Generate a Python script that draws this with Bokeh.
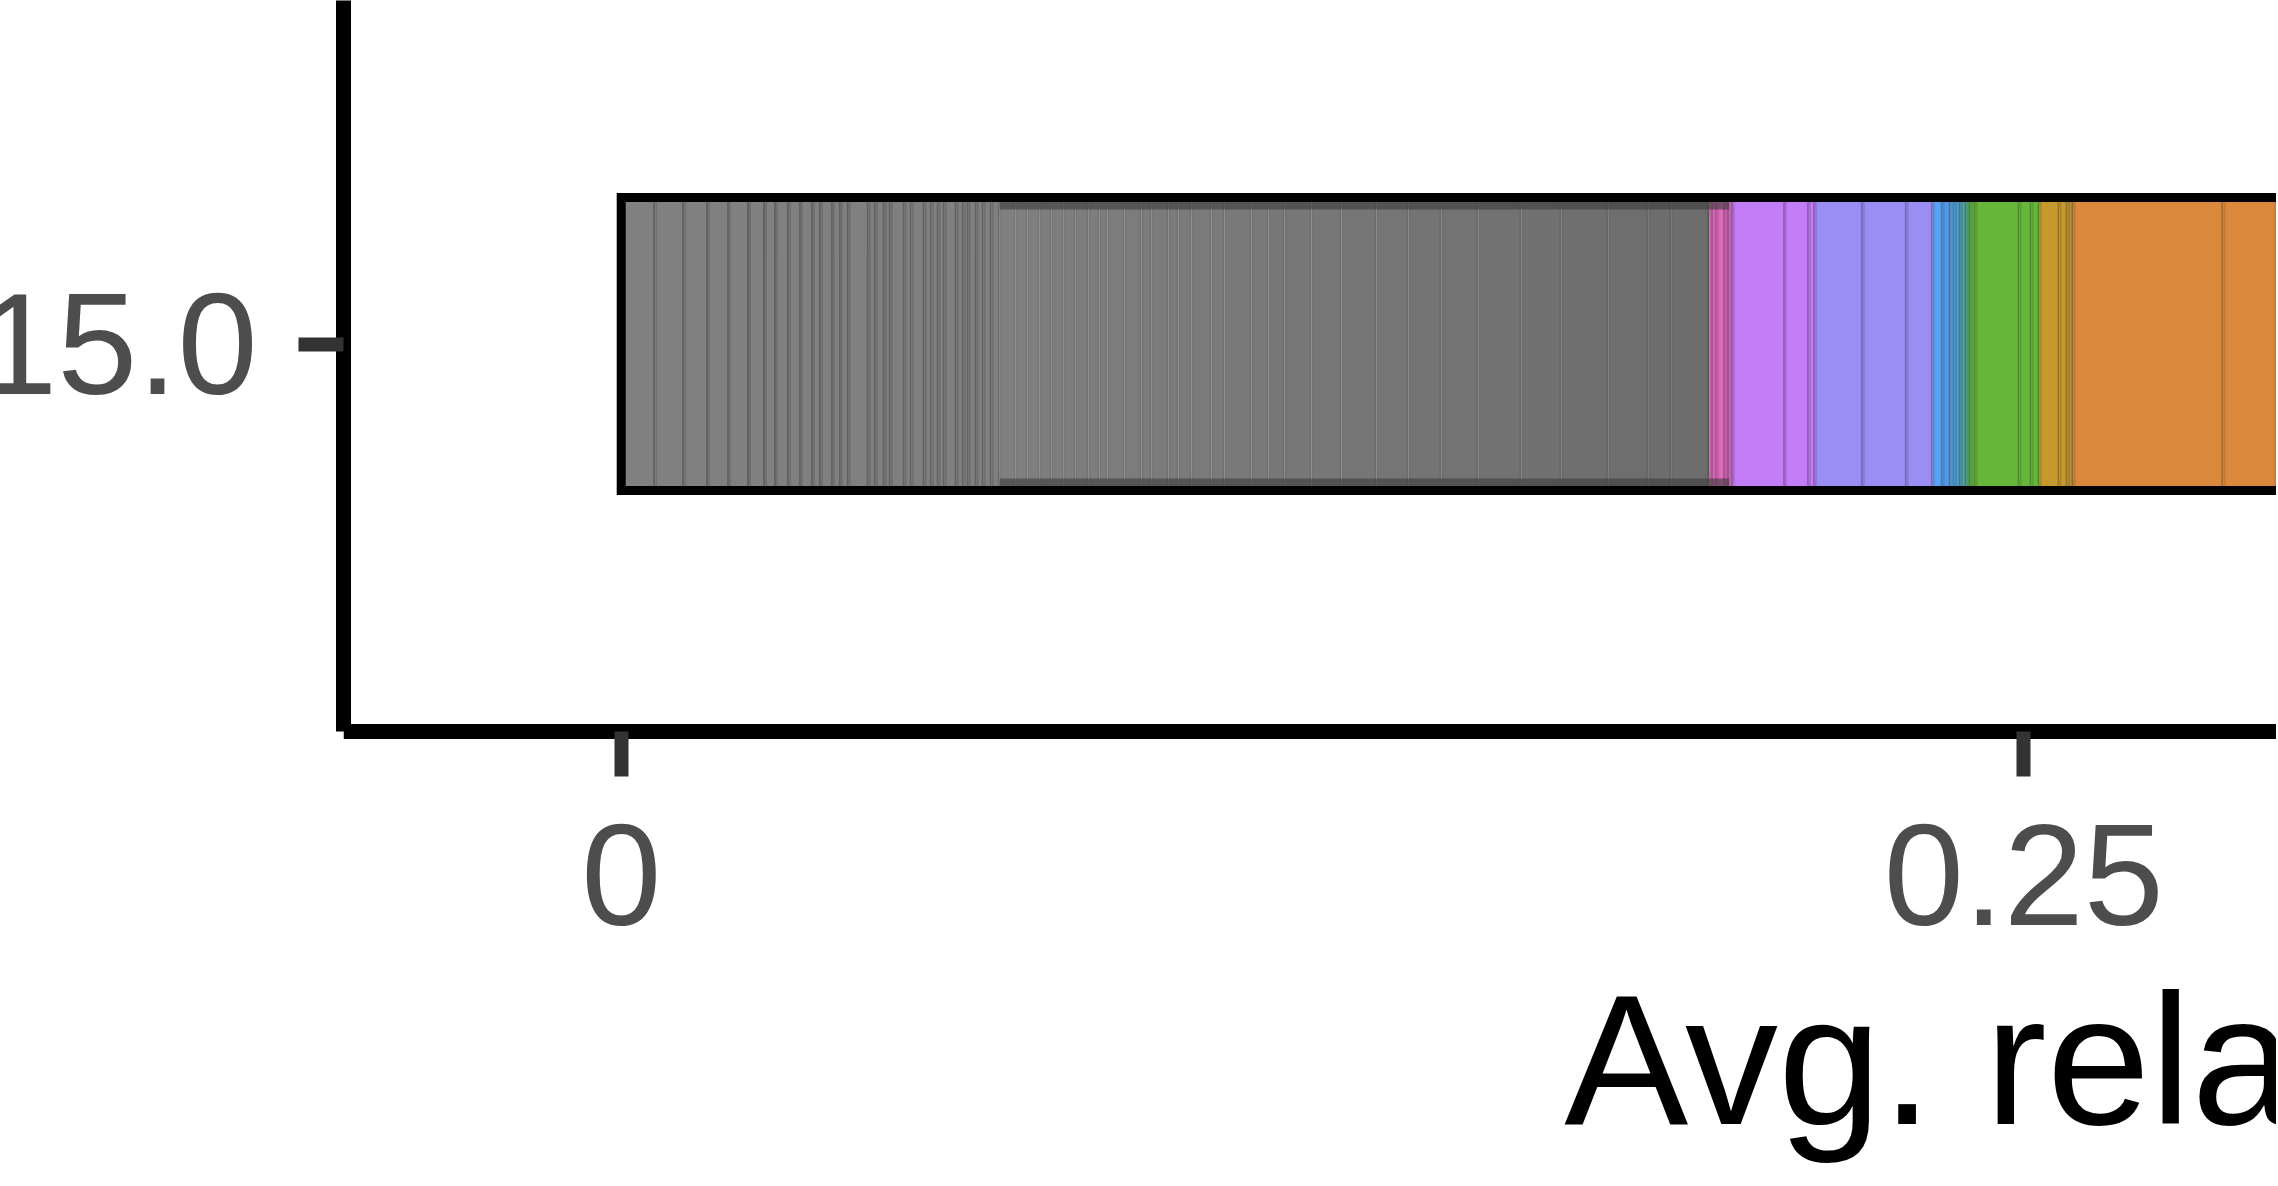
from bokeh.plotting import figure
from bokeh.models import ColumnDataSource, Range1d, FixedTicker, Label, NumeralTickFormatter
from bokeh.embed import file_html
from bokeh.resources import INLINE

# one stacked bar (sample at 15.0), segments = taxa, read left to right
sample_y = 15.0

other_vals = [0.00605, 0.00516, 0.00427, 0.00374, 0.00356, 0.00285, 0.00196, 0.00231, 0.00214, 0.00214,
              0.00142, 0.00214, 0.00142, 0.00142, 0.00356, 0.00125, 0.00160, 0.00107, 0.00249, 0.00125,
              0.00231, 0.00125, 0.00125, 0.00107, 0.00214, 0.00125, 0.00089, 0.00142, 0.00125, 0.00142,
              0.00142, 0.00285, 0.00214, 0.00214, 0.00214, 0.00214, 0.00214, 0.00231, 0.00196, 0.00142,
              0.00303, 0.00303, 0.00178, 0.00303, 0.00178, 0.00231, 0.00356, 0.00231, 0.00481, 0.00303,
              0.00285, 0.00481, 0.00534, 0.00623, 0.00570, 0.00588, 0.00659, 0.00766, 0.00712, 0.00837,
              0.00712, 0.00410, 0.00677]
pink_vals = [0.00071, 0.00071, 0.00142, 0.00071]
purple_vals = [0.00071, 0.00926, 0.00427, 0.00107]
lavender_vals = [0.00855, 0.00783, 0.00463]
blue_vals = [0.00178, 0.00142, 0.00071, 0.00107, 0.00107]
green_vals = [0.00071, 0.00089, 0.00783, 0.00214, 0.00142]
gold_vals = [0.00356, 0.00142, 0.00107]
orange_vals = [0.02671, 0.04000]

x_tick_values = [0, 0.25, 0.5, 0.75, 1]
x_tick_labels = ["0", "0.25", "0.5", "0.75", "1"]
y_tick_values = [15.0]
y_tick_labels = ["15.0"]
x_title = "Avg. relative abundance"

# colours (style only)
pink_cols = ["#E070C0", "#EC6FCA", "#DE6CBB", "#D66AB8"]
purple_cols = ["#CC72DC", "#C47CF7", "#C47CF7", "#C47CF7"]
lavender_cols = ["#9A8EF5", "#9A8EF5", "#9A8EF5"]
blue_cols = ["#57A3F5", "#5099E6", "#4AB0EC", "#4B9DCB", "#4AA4A0"]
green_cols = ["#55B45A", "#64B336", "#66B63A", "#66B63A", "#66B63A"]
gold_cols = ["#C6992F", "#C6992F", "#B98C35"]
orange_cols = ["#DA893C", "#DA893C"]

RARE_FROM = 31  # from here on the grey taxa are tiny and blur together

# the grey "other" block darkens slightly towards the right
other_total = sum(other_vals)
other_cols, other_line_alpha = [], []
acc = 0
for i, v in enumerate(other_vals):
    mid = acc + v / 2
    acc += v
    f = max(0.0, (mid - 0.066) / (other_total - 0.066))
    g = int(round(128 - 20 * f))
    other_cols.append("#%02x%02x%02x" % (g, g, g))
    other_line_alpha.append(0.12 if i < RARE_FROM else 0.035)

vals = other_vals + pink_vals + purple_vals + lavender_vals + blue_vals + green_vals + gold_vals + orange_vals
cols = other_cols + pink_cols + purple_cols + lavender_cols + blue_cols + green_cols + gold_cols + orange_cols
line_alpha = other_line_alpha + [0.12] * (len(vals) - len(other_vals))

lefts, rights = [], []
acc = 0
for v in vals:
    lefts.append(acc)
    acc += v
    rights.append(acc)
total = acc

src = ColumnDataSource(dict(y=[sample_y] * len(vals), left=lefts, right=rights, color=cols, la=line_alpha))

FONT = "Liberation Sans"
BAR_H = 0.9
X_AXIS_AT = 13.8099   # where the x axis crosses; tick labels and title sit below it inside the frame

p = figure(width=2302, height=1184, output_backend="svg", toolbar_location=None, tools="",
           x_range=Range1d(-0.0495, 0.29505), y_range=Range1d(12.4186, 16.0550),
           min_border_left=367, min_border_right=0, min_border_top=0, min_border_bottom=0)
# the reference is a crop: the y tick label runs off the left edge of the picture
p.styles = {"margin-left": "-26px"}
p.outline_line_color = None
p.xgrid.visible = False
p.ygrid.visible = False
p.background_fill_color = "white"
p.border_fill_color = "white"

p.hbar(y="y", left="left", right="right", height=BAR_H, fill_color="color",
       line_color="black", line_alpha="la", line_width=4, source=src)

# the many tiny grey/pink taxa leave a dark seam just inside the top and bottom edges
band_x0 = lefts[RARE_FROM]
band_x1 = lefts[len(other_vals) + len(pink_vals)]
inset = 0.4255
p.segment(x0=[band_x0, band_x0], x1=[band_x1, band_x1],
          y0=[sample_y + inset, sample_y - inset], y1=[sample_y + inset, sample_y - inset],
          line_color="#3c3c3c", line_alpha=0.6, line_width=8)

# black outline round the whole stack (drawn as a line so the cropped right end stays open)
top, bot = sample_y + BAR_H / 2, sample_y - BAR_H / 2
p.line(x=[total, 0, 0, total], y=[top, top, bot, bot], line_color="black", line_width=9,
       line_join="miter")

for ax in (p.xaxis[0], p.yaxis[0]):
    ax.axis_line_color = "black"
    ax.axis_line_width = 15
    ax.major_tick_line_color = "#333333"
    ax.major_tick_line_width = 14
    ax.major_tick_out = 45
    ax.major_tick_in = 0
    ax.minor_tick_out = 0
    ax.minor_tick_in = 0
    ax.major_label_text_font = FONT
    ax.major_label_text_font_size = "144px"
    ax.major_label_text_color = "#4D4D4D"

xax = p.xaxis[0]
xax.ticker = FixedTicker(ticks=x_tick_values)
xax.formatter = NumeralTickFormatter(format="0.[00]")
xax.major_label_overrides = dict(zip(x_tick_values, x_tick_labels))
xax.major_label_standoff = 49
xax.fixed_location = X_AXIS_AT

yax = p.yaxis[0]
yax.ticker = FixedTicker(ticks=y_tick_values)
yax.formatter = NumeralTickFormatter(format="0.0")
yax.major_label_overrides = dict(zip(y_tick_values, y_tick_labels))
yax.major_label_standoff = 41
yax.bounds = (X_AXIS_AT, 20)

# x title is centred on the full (cropped) panel, so it starts far right
p.add_layout(Label(x=0.16809, y=12.8025, x_units="data", y_units="data", text=x_title,
                   text_font=FONT, text_font_size="186px", text_color="black",
                   text_align="left", text_baseline="alphabetic"))

open("out.html", "w").write(file_html(p, INLINE))
